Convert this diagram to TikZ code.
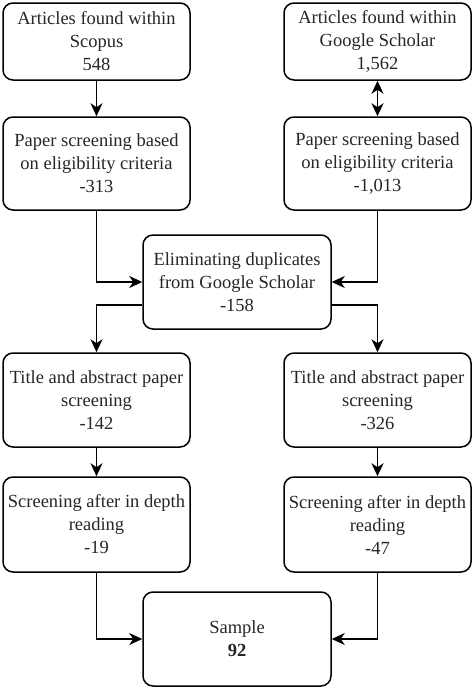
\documentclass[tikz,border=0pt]{standalone}
\usepackage{fontspec}
\setmainfont{LiberationSerif}[Extension=.ttf, UprightFont=*-Regular, BoldFont=*-Bold]
\usetikzlibrary{arrows.meta}
\begin{document}
\begin{tikzpicture}[x=1pt,y=-1pt,
  box/.style={draw=black, line width=1.5pt, rounded corners=10pt, align=center,
    inner sep=0pt, font=\rmfamily\fontsize{18.5}{23}\selectfont, text=black!85},
  tip/.style={Stealth[length=13pt,width=12pt,inset=4pt]},
  conn/.style={line width=1.5pt, -{Stealth[length=13pt,width=12pt,inset=4pt]}},
  dconn/.style={line width=1.5pt, {Stealth[length=13pt,width=12pt,inset=4pt]}-{Stealth[length=13pt,width=12pt,inset=4pt]}}]
\useasboundingbox (0,0) rectangle (474,688);
\node[box, minimum width=187pt, minimum height=77pt] (a1) at (96.5,41.5) {Articles found within\\Scopus\\548};
\node[box, minimum width=187pt, minimum height=77pt] (b1) at (377.5,41.5) {Articles found within\\Google Scholar\\1,562};
\node[box, minimum width=187pt, minimum height=93pt] (a2) at (96.5,163.5) {Paper screening based\\on eligibility criteria\\-313};
\node[box, minimum width=187pt, minimum height=93pt] (b2) at (377.5,163.5) {Paper screening based\\on eligibility criteria\\-1,013};
\node[box, minimum width=188pt, minimum height=94pt] (m) at (237,282) {Eliminating duplicates\\from Google Scholar\\-158};
\node[box, minimum width=187pt, minimum height=94pt] (a3) at (96.5,400) {Title and abstract paper\\screening\\-142};
\node[box, minimum width=187pt, minimum height=94pt] (b3) at (377.5,400) {Title and abstract paper\\screening\\-326};
\node[box, minimum width=187pt, minimum height=95pt] (a4) at (96.5,524.5) {Screening after in depth\\reading\\-19};
\node[box, minimum width=187pt, minimum height=95pt] (b4) at (377.5,524.5) {Screening after in depth\\reading\\-47};
\node[box, minimum width=188pt, minimum height=94pt] (s) at (237,639) {Sample\\\textbf{92}};
\coordinate (ml) at ([yshift=-23pt]m.west);
\coordinate (mr) at ([yshift=-23pt]m.east);
\draw[conn] (a1.south) -- (a2.north);
\draw[dconn] (b1.south) -- (b2.north);
\draw[conn] (a2.south) |- (m.west);
\draw[conn] (b2.south) |- (m.east);
\draw[conn] (ml) -| (a3.north);
\draw[conn] (mr) -| (b3.north);
\draw[conn] (a3.south) -- (a4.north);
\draw[conn] (b3.south) -- (b4.north);
\draw[conn] (a4.south) |- (s.west);
\draw[conn] (b4.south) |- (s.east);
\end{tikzpicture}
\end{document}
